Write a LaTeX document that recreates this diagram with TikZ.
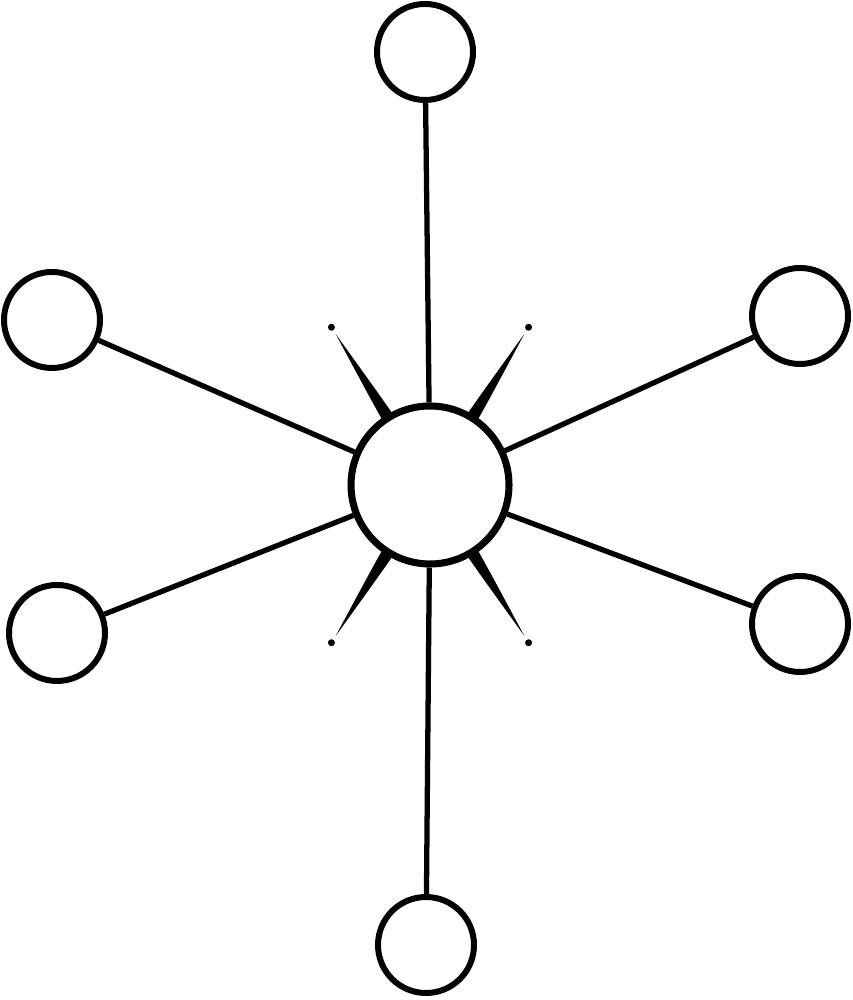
\documentclass[tikz,border=0pt]{standalone}
\usepackage{xcolor}
\usepackage{tikz}
\usetikzlibrary{calc}
\usetikzlibrary{positioning}

\begin{document}
\begin{tikzpicture}[
      hub style/.style={circle,draw=black,line width=2pt,minimum
        size=1.58cm,inner sep=0pt},
      leaf style/.style={circle,draw=black,line width=1.7pt,minimum
        size=0.96cm,inner sep=0pt},
      spoke style/.style={draw=black,line width=1.5pt},
      spike style/.style={fill=black,draw=none}
      ]
      \useasboundingbox (0,0) rectangle (8.52,10);

      \node[hub style] (hub) at (4.30,5.15) {};
      \node[leaf style] (top) at (4.25,9.48) {};
      \node[leaf style] (bottom) at (4.26,0.55) {};
      \node[leaf style] (upleft) at (0.52,6.80) {};
      \node[leaf style] (upright) at (8.00,6.84) {};
      \node[leaf style] (lowleft) at (0.57,3.67) {};
      \node[leaf style] (lowright) at (8.00,3.76) {};

      \draw[spoke style] (hub) edge [] (top);
      \draw[spoke style] (hub) edge [] (bottom);
      \draw[spoke style] (hub) edge [] (upleft);
      \draw[spoke style] (hub) edge [] (upright);
      \draw[spoke style] (hub) edge [] (lowleft);
      \draw[spoke style] (hub) edge [] (lowright);

      % spikes and dots
      \foreach \a in {58,122,238,302} {
        \fill[spike style] ($(hub.center)+(\a-4.5:0.78)$)
          .. controls ($(hub.center)+(\a-2.6:1.05)$) .. ($(hub.center)+(\a:1.78)$)
          .. controls ($(hub.center)+(\a+2.6:1.05)$) .. ($(hub.center)+(\a+4.5:0.78)$)
          -- cycle;
        \fill[black] ($(hub.center)+(\a:1.86)$) circle (0.035);
      }

    \end{tikzpicture}
\end{document}
